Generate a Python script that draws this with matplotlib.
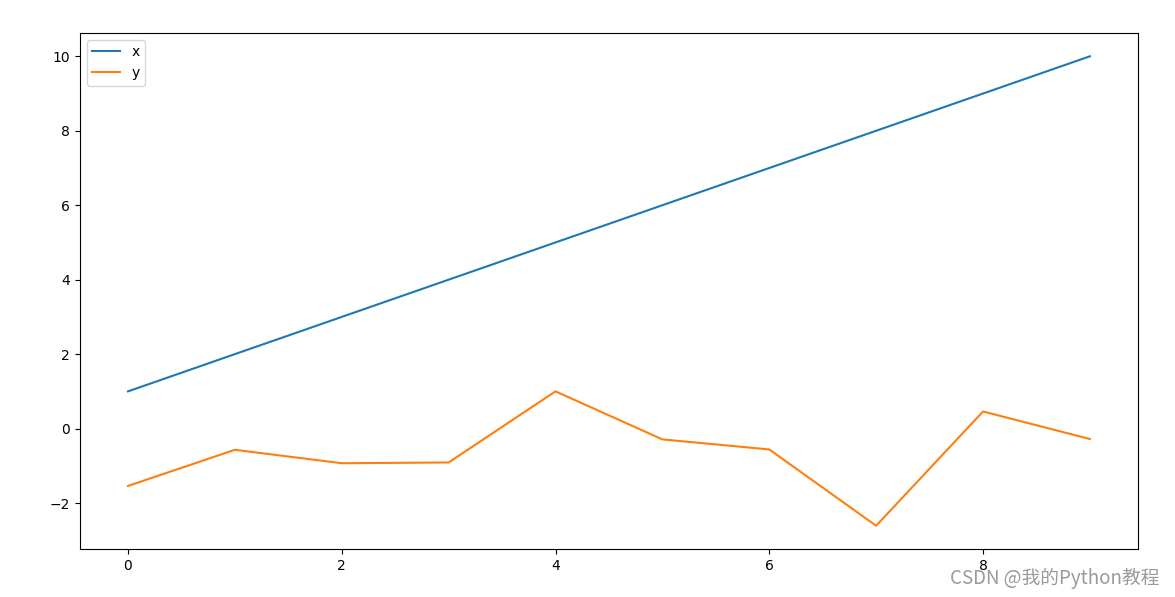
import matplotlib
matplotlib.use("Agg")
import matplotlib.pyplot as plt
import pandas as pd

# data
idx = list(range(10))
x_vals = [1, 2, 3, 4, 5, 6, 7, 8, 9, 10]
y_vals = [-1.54, -0.57, -0.93, -0.91, 1.0, -0.29, -0.56, -2.61, 0.46, -0.28]

df = pd.DataFrame({"x": x_vals, "y": y_vals}, index=idx)

fig = plt.figure(figsize=(11.75, 5.97), dpi=100)
ax = fig.add_axes([0.068, 0.080, 0.9005, 0.865])
ax.plot(df.index, df["x"], label="x")
ax.plot(df.index, df["y"], label="y")
ax.legend(loc="upper left")

# watermark (overlaps the "8" tick label, as in the source image)
fig.text(0.987, 0.014, "CSDN @我的Python教程", ha="right", va="bottom",
         fontsize=13.5, color="#9a9a9a",
         family=["Noto Sans CJK SC", "DejaVu Sans"])

fig.savefig("out.png", dpi=100)
